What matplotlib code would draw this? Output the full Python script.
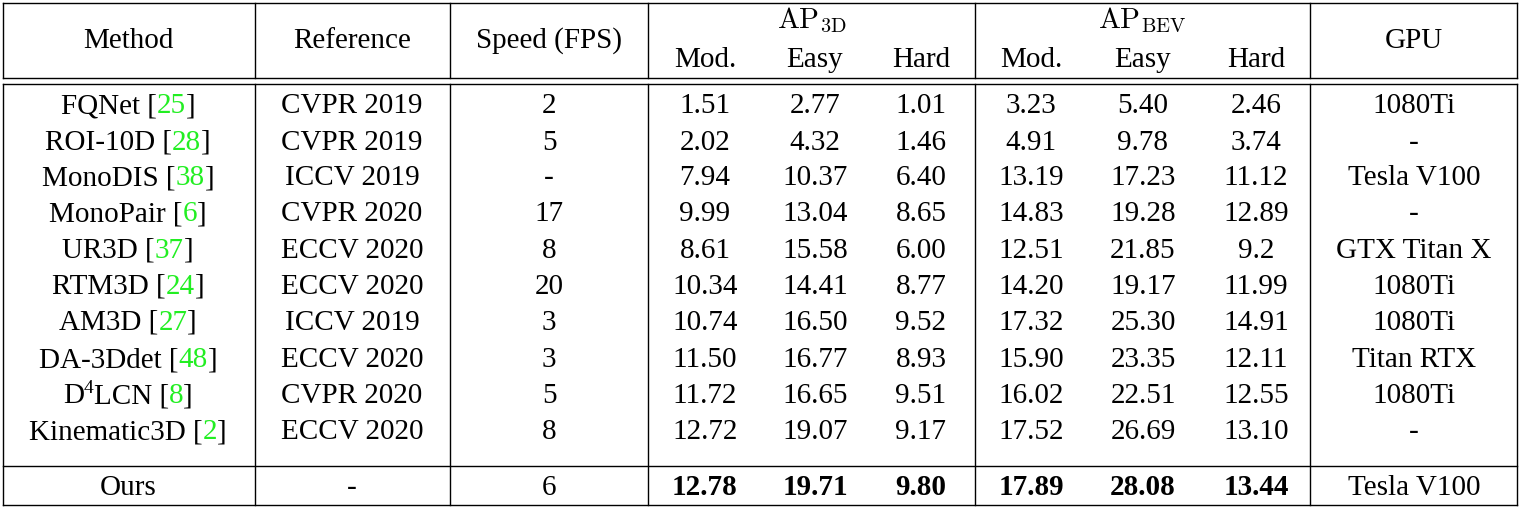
import matplotlib
matplotlib.use("Agg")
import matplotlib.pyplot as plt

plt.rcParams['font.family'] = ['Liberation Serif', 'DejaVu Serif']
plt.rcParams['mathtext.fontset'] = 'cm'

methods = ["FQNet", "ROI-10D", "MonoDIS", "MonoPair", "UR3D", "RTM3D", "AM3D",
           "DA-3Ddet", "D4LCN", "Kinematic3D", "Ours"]
cites = ["25", "28", "38", "6", "37", "24", "27", "48", "8", "2", None]
refs = ["CVPR 2019", "CVPR 2019", "ICCV 2019", "CVPR 2020", "ECCV 2020", "ECCV 2020",
        "ICCV 2019", "ECCV 2020", "CVPR 2020", "ECCV 2020", "-"]
speed = ["2", "5", "-", "17", "8", "20", "3", "3", "5", "8", "6"]
ap3d_mod = ["1.51", "2.02", "7.94", "9.99", "8.61", "10.34", "10.74", "11.50", "11.72", "12.72", "12.78"]
ap3d_easy = ["2.77", "4.32", "10.37", "13.04", "15.58", "14.41", "16.50", "16.77", "16.65", "19.07", "19.71"]
ap3d_hard = ["1.01", "1.46", "6.40", "8.65", "6.00", "8.77", "9.52", "8.93", "9.51", "9.17", "9.80"]
bev_mod = ["3.23", "4.91", "13.19", "14.83", "12.51", "14.20", "17.32", "15.90", "16.02", "17.52", "17.89"]
bev_easy = ["5.40", "9.78", "17.23", "19.28", "21.85", "19.17", "25.30", "23.35", "22.51", "26.69", "28.08"]
bev_hard = ["2.46", "3.74", "11.12", "12.89", "9.2", "11.99", "14.91", "12.11", "12.55", "13.10", "13.44"]
gpu = ["1080Ti", "-", "Tesla V100", "-", "GTX Titan X", "1080Ti", "1080Ti", "Titan RTX",
       "1080Ti", "-", "Tesla V100"]

W, H = 1520, 509
fig = plt.figure(figsize=(W/100, H/100), dpi=100)
ax = fig.add_axes([0, 0, 1, 1])
ax.set_xlim(0, W); ax.set_ylim(H, 0); ax.axis('off')
FS = 21
GREEN = '#22ee22'
OFF = 10  # baseline offset from visual centre

vx = [3, 255, 450, 648, 975, 1310, 1517]
lw = 1.0
for x in vx:
    ax.plot([x, x], [3, 78], color='k', lw=lw)
    ax.plot([x, x], [84, 505], color='k', lw=lw)
for y in [3, 78, 84, 466, 505]:
    ax.plot([3, 1517], [y, y], color='k', lw=lw)

def t(x, y, s, **kw):
    ax.text(x, y + OFF, s, ha='center', va='baseline', fontsize=kw.pop('fontsize', FS), **kw)

# header
t(128, 38, "Method")
t(352, 38, "Reference")
t(549, 38, "Speed (FPS)")
t(1414, 38, "GPU")
t(812, 18, r"$\mathrm{AP}_{\mathrm{3D}}$")
t(1142, 18, r"$\mathrm{AP}_{\mathrm{BEV}}$")
colx = [705, 815, 921, 1031, 1143, 1256]
for cx, lab in zip(colx, ["Mod.", "Easy", "Hard"] * 2):
    t(cx, 57, lab)

fig.canvas.draw()
r = fig.canvas.get_renderer()

def wid(s, size):
    tt = ax.text(0, 0, s, fontsize=size)
    w = tt.get_window_extent(r).width
    tt.remove()
    return w

def pieces(cx, y, parts):
    total = sum(wid(p[0], p[2]) for p in parts)
    x = cx - total / 2
    for s, c, size, dy in parts:
        ax.text(x, y + dy, s, ha='left', va='baseline', fontsize=size, color=c)
        x += wid(s, size)

rows_y = [103, 140, 175, 211, 248, 284, 320, 357, 393, 429, 485]
for i, y in enumerate(rows_y):
    if cites[i] is None:
        t(128, y, methods[i])
    else:
        if methods[i] == "D4LCN":
            parts = [("D", 'k', FS, 0), ("4", 'k', 14, -10), ("LCN [", 'k', FS, 0)]
        else:
            parts = [(methods[i] + " [", 'k', FS, 0)]
        parts += [(cites[i], GREEN, FS, 0), ("]", 'k', FS, 0)]
        pieces(128, y + OFF, parts)
    t(352, y, refs[i])
    t(549, y, speed[i])
    t(1414, y, gpu[i])
    bold = 'bold' if i == len(rows_y) - 1 else 'normal'
    for cx, arr in zip(colx, [ap3d_mod, ap3d_easy, ap3d_hard, bev_mod, bev_easy, bev_hard]):
        t(cx, y, arr[i], fontweight=bold)

fig.savefig("out.png", dpi=100)
